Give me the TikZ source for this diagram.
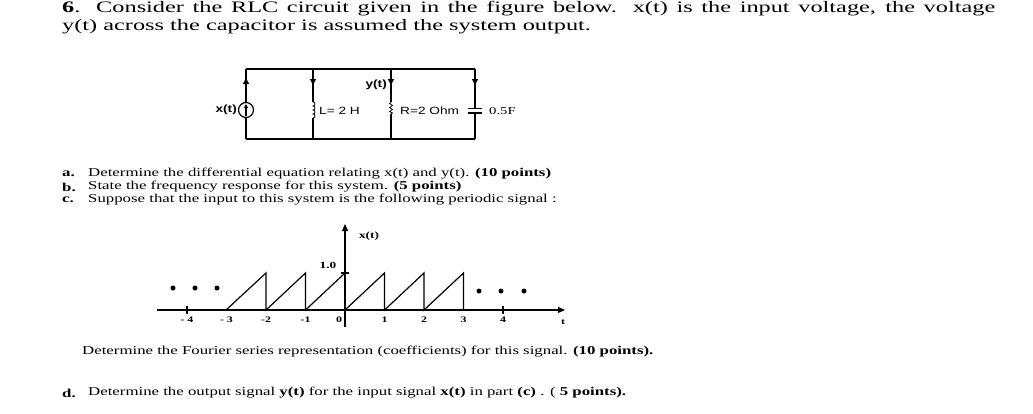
\documentclass[tikz,border=0pt]{standalone}
\usepackage{fontspec}
\setmainfont[FakeStretch=1.4]{Liberation Serif}
\newfontfamily\sansf[FakeStretch=1.3]{Liberation Sans}
\newfontfamily\titlef[FakeStretch=1.52]{Liberation Serif}
\usetikzlibrary{arrows.meta,decorations.pathmorphing}
\begin{document}
\begin{tikzpicture}[x=1pt,y=-1pt,
  wire/.style={line width=1.3pt},
  brarrow/.style={-{Triangle[length=6pt,width=6pt]}, line width=1.3pt},
  txt/.style={anchor=west,inner sep=0pt,font=\fontsize{12}{14}\selectfont},
  clab/.style={inner sep=0pt,font=\sansf\fontsize{10.5}{12}\selectfont},
  tick/.style={inner sep=0pt,font=\bfseries\fontsize{8.5}{9}\selectfont},
  dot/.style={circle,fill,inner sep=0pt,minimum size=5pt}]
\useasboundingbox (0,0) rectangle (1033,413);
% title
\node[anchor=north west,inner sep=0pt,text width=933pt,align=justify,font=\titlef\fontsize{16}{18}\selectfont] (title) at (62,1)
 {\textbf{6}. Consider the RLC circuit given in the figure below. x(t) is the input voltage, the voltage\linebreak y(t) across the capacitor is assumed the system output.};
% circuit
\coordinate (s1) at (246,69); \coordinate (s2) at (246,139);
\coordinate (l1) at (313,69); \coordinate (l2) at (313,139);
\coordinate (r1) at (391,69); \coordinate (r2) at (391,139);
\coordinate (c1) at (475,69); \coordinate (c2) at (475,139);
\draw[wire] (s1) -- (c1); \draw[wire] (s2) -- (c2);
\node[draw,circle,line width=1.2pt,minimum size=15pt,inner sep=0pt] (src) at (246,110) {};
\draw[-{Triangle[length=4pt,width=4pt]},line width=1.1pt] (246,115.5) -- (246,104);
\draw[wire] (src.north) -- (s1); \draw[wire] (src.south) -- (s2);
\draw[brarrow] (246,88) -- (246,78);
% inductor
\coordinate (la) at (313,102); \coordinate (lb) at (313,118);
\draw[wire] (l1) -- (la); \draw[wire] (lb) -- (l2);
\draw[line width=0.8pt] (la) \foreach \i in {0,1,2,3} {arc[start angle=90,end angle=-90,radius=2pt]} ;
\draw[brarrow] (313,74) -- (313,85);
% resistor
\coordinate (ra) at (391,102); \coordinate (rb) at (391,114);
\draw[wire] (r1) -- (ra); \draw[wire] (rb) -- (r2);
\draw[line width=0.7pt] (ra) -- (389.5,103.5) -- (392.5,105.5) -- (389.5,107.5) -- (392.5,109.5) -- (389.5,111.5) -- (392.5,113) -- (rb);
\draw[brarrow] (391,74) -- (391,85);
% capacitor
\coordinate (ca) at (475,108.5); \coordinate (cb) at (475,113);
\draw[wire] (c1) -- (ca); \draw[wire] (cb) -- (c2);
\draw[line width=1.3pt] (468,108.5) -- (482,108.5); \draw[line width=1.3pt] (468,113) -- (482,113);
\draw[brarrow] (475,74) -- (475,85);
\node[clab,anchor=east] (xl) at (237,110) {\textbf{x(t)}};
\node[clab,anchor=west] (ll) at (319,111) {L= 2 H};
\node[clab,anchor=east] (yl) at (387,85) {\textbf{y(t)}};
\node[clab,anchor=west] (rl) at (400,111) {R=2 Ohm};
\node[inner sep=0pt,anchor=west,font=\fontsize{10.5}{12}\selectfont] (cl) at (489,111) {0.5F};
% items
\node[txt] (ia) at (62,174) {\textbf{a.}}; \node[txt] (ta) at (88,174) {Determine the differential equation relating x(t) and y(t). \textbf{(10 points)}};
\node[txt] (ib) at (62,187) {\textbf{b.}}; \node[txt] (tb) at (88,187) {State the frequency response for this system. \textbf{(5 points)}};
\node[txt] (ic) at (62,200) {\textbf{c.}}; \node[txt] (tc) at (88,200) {Suppose that the input to this system is the following periodic signal :};
% plot
\coordinate (xa) at (157,310); \coordinate (xb) at (565,310);
\coordinate (ya) at (345,327); \coordinate (yb) at (345,224);
\draw[line width=1.2pt,-{Triangle[length=7pt,width=6pt]}] (xa) -- (xb);
\draw[line width=1.2pt,-{Triangle[length=7pt,width=6pt]}] (ya) -- (yb);
\foreach \x in {-4,4} \draw[line width=1.1pt] (345+39.5*\x,306) -- (345+39.5*\x,314);
\draw[line width=1.2pt] (226,310) \foreach \k in {-3,...,2} {-- (345+39.5*\k+39.5,273) -- (345+39.5*\k+39.5,310)};
\draw[line width=1.1pt] (341,273) -- (349,273);
\foreach \x/\l in {-4/- 4,-3/- 3,-2/-2,-1/-1,1/1,2/2,3/3,4/4} \node[tick] at (345+39.5*\x,320) {\l};
\node[tick] (zero) at (339,320) {0};
\node[tick] (tl) at (563,322) {t};
\node[inner sep=0pt,font=\bfseries\fontsize{9.5}{10}\selectfont] (xtl) at (369,236) {x(t)};
\node[inner sep=0pt,font=\bfseries\fontsize{9.5}{10}\selectfont] (onel) at (328,265) {1.0};
\foreach \x in {173,195,217} \node[dot] at (\x,288) {};
\foreach \x in {479,501,524} \node[dot] at (\x,291) {};
\node[txt] (fs) at (82,352) {Determine the Fourier series representation (coefficients) for this signal. \textbf{(10 points).}};
\node[txt] (id) at (62,393) {\textbf{d.}}; \node[txt] (td) at (88,393) {Determine the output signal \textbf{y(t)} for the input signal \textbf{x(t)} in part \textbf{(c)} . ( \textbf{5 points).}};
\end{tikzpicture}
\end{document}
